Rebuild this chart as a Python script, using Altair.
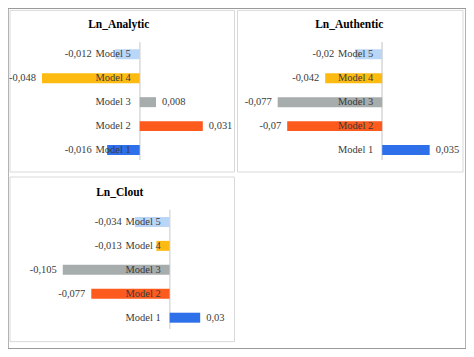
import altair as alt
import pandas as pd

models = ["Model 5", "Model 4", "Model 3", "Model 2", "Model 1"]
colors = ["#b9d6f6", "#fdbb12", "#a7adad", "#fd5a1e", "#2e6fea"]

titles = ["Ln_Analytic", "Ln_Authentic", "Ln_Clout"]
analytic = [-0.012, -0.048, 0.008, 0.031, -0.016]
authentic = [-0.02, -0.042, -0.077, -0.07, 0.035]
clout = [-0.034, -0.013, -0.105, -0.077, 0.03]

FONT = "Liberation Serif"
W, H = 459, 341


def fmt(v):
    s = ("%.3f" % v).rstrip("0").rstrip(".")
    return s.replace(".", ",")


def panel(title, values, box, domain, band, title_x, title_y, zero_span):
    x0, x1, y0, y1 = box
    ppu = (x1 - x0) / (domain[1] - domain[0])
    thr = -42.0 / ppu  # left edge of the category label, in data units
    df = pd.DataFrame({
        "model": models,
        "value": values,
        "label": [fmt(v) for v in values],
    })
    df["zero"] = 0.0
    df["lx"] = [min(v, thr) if v < 0 else v for v in values]
    df["neg"] = [1 if v < 0 else 0 for v in values]

    xs = alt.Scale(domain=domain, range=[x0, x1], nice=False, zero=False)
    y = alt.Y("model:N", sort=models,
              scale=alt.Scale(domain=models, range=band, paddingInner=0, paddingOuter=0), axis=None)

    base = alt.Chart(df)
    border = base.transform_filter("datum.model == 'Model 1'").mark_rect(
        fill="#ffffff", stroke="#d9d9d9", strokeWidth=1
    ).encode(x=alt.value(x0), x2=alt.value(x1), y=alt.value(y0), y2=alt.value(y1))
    zero = base.mark_rule(color="#dedede", strokeWidth=1).encode(
        x=alt.X("zero:Q", scale=xs, axis=None), y=alt.value(zero_span[0]), y2=alt.value(zero_span[1])
    )
    bars = base.mark_bar(size=10).encode(
        x=alt.X("value:Q", scale=xs, axis=None), x2="zero:Q", y=y,
        color=alt.Color("model:N", scale=alt.Scale(domain=models, range=colors), legend=None),
    )
    cats = base.mark_text(align="right", baseline="middle", dx=-9, font=FONT, fontSize=10.5, color="#3a3a3a").encode(
        x=alt.X("zero:Q", scale=xs, axis=None), y=y, text="model:N"
    )
    neg = base.transform_filter("datum.neg == 1").mark_text(
        align="right", baseline="middle", dx=-6, font=FONT, fontSize=10.5, color="#3a3a3a"
    ).encode(x=alt.X("lx:Q", scale=xs, axis=None), y=y, text="label:N")
    pos = base.transform_filter("datum.neg == 0").mark_text(
        align="left", baseline="middle", dx=6, font=FONT, fontSize=10.5, color="#3a3a3a"
    ).encode(x=alt.X("lx:Q", scale=xs, axis=None), y=y, text="label:N")
    ttl = base.transform_filter("datum.model == 'Model 1'").mark_text(
        align="center", baseline="middle", font=FONT, fontSize=11.5, fontWeight="bold", color="#000000",
        text=title, x=title_x, y=title_y
    )
    return alt.layer(border, zero, bars, cats, neg, pos, ttl)


# panel boxes in the chart's own pixel frame (x0, x1, y0, y1)
p1 = panel(titles[0], analytic, (2, 227, 2, 164), [-130 / 2040, 95 / 2040], [34, 154], 111, 17, (34, 152))
p2 = panel(titles[1], authentic, (230, 456, 2, 164), [-145 / 1360, 81 / 1360], [34, 154], 342, 17, (34, 152))
p3 = panel(titles[2], clout, (2, 227, 169, 334), [-160 / 1020, 65 / 1020], [202, 322], 112, 185, (202, 321))

chart = alt.layer(p1, p2, p3).resolve_scale(
    x="independent", y="independent", color="independent"
).properties(
    width=W, height=H, padding=0
).configure(font=FONT).configure_view(stroke="#9a9a9a", strokeWidth=1.5)

chart.save("out.html", embed_options={"renderer": "svg", "actions": False})
